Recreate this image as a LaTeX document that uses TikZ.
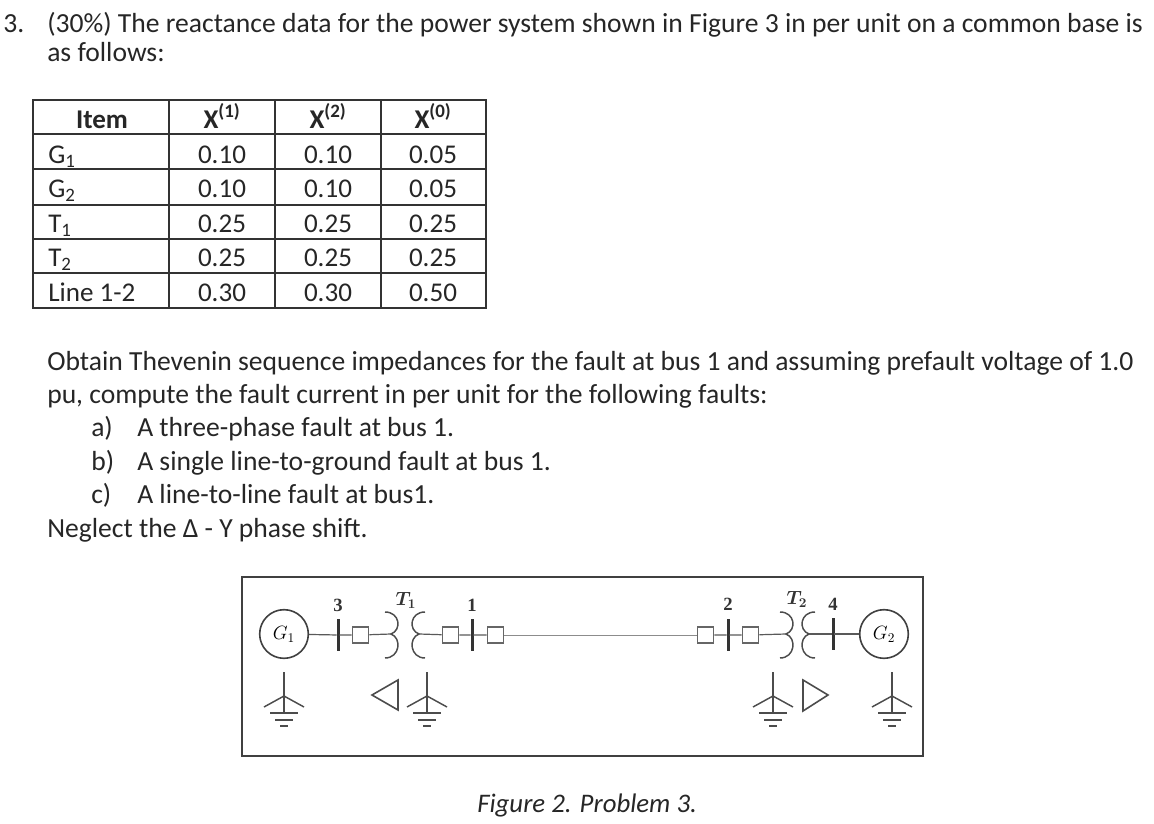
\documentclass[tikz,border=0pt]{standalone}
\usepackage{fontspec}
\setmainfont{Carlito}
\newfontfamily\figfont{Liberation Serif}
\usetikzlibrary{positioning}
\tikzset{
    txt/.style={anchor=base west,inner sep=0pt,font=\fontsize{20.7}{24}\selectfont,text=black!85},
    cell/.style={anchor=base,inner sep=0pt,font=\fontsize{20.3}{24}\selectfont,text=black!85},
    lcell/.style={cell,anchor=base west},
    busbar/.style={draw=black!80,fill=black!80,rectangle,minimum width=1.6pt,minimum height=23pt,inner sep=0pt},
    brk/.style={draw=black!60,line width=1.3pt,rectangle,minimum width=12pt,minimum height=11.5pt,inner sep=0pt},
    gen/.style={draw=black!75,line width=1.2pt,circle,minimum size=36.5pt,inner sep=0pt,font=\Large},
    wire/.style={draw=black!65,line width=.9pt},
    coil/.style={draw=black!70,line width=1.1pt},
    num/.style={inner sep=0pt,font=\figfont\bfseries\fontsize{14}{14}\selectfont,text=black!80},
    tlabel/.style={inner sep=0pt,font=\Large\boldmath,text=black!80},
    tbl/.style={draw=black!80,line width=.9pt}
}
\begin{document}
\begin{tikzpicture}[x=.75pt,y=-.75pt]
    \useasboundingbox (0,0) rectangle (1154,824);
    % Text:
    \node[txt] (qnum) at (3,33) {3.};
    \node[txt] (q1) at (47,33) {(30\%) The reactance data for the power system shown in Figure 3 in per unit on a common base is};
    \node[txt] (q2) at (47,62) {as follows:};
    \node[txt] (p1) at (47,370) {Obtain Thevenin sequence impedances for the fault at bus 1 and assuming prefault voltage of 1.0};
    \node[txt] (p2) at (47,403) {pu, compute the fault current in per unit for the following faults:};
    \node[txt] (a1) at (91,436) {a)};
    \node[txt] (a2) at (137,436) {A three-phase fault at bus 1.};
    \node[txt] (b1) at (91,470) {b)};
    \node[txt] (b2) at (137,470) {A single line-to-ground fault at bus 1.};
    \node[txt] (c1) at (91,503) {c)};
    \node[txt] (c2) at (137,503) {A line-to-line fault at bus1.};
    \node[txt] (p3) at (47,537) {Neglect the Δ - Y phase shift.};
    \node[txt,font=\fontsize{20.1}{24}\selectfont\itshape] (cap) at (477,812) {Figure 2. Problem 3.};

    % Table:
    \draw[tbl] (33,100) rectangle (486,308);
    \foreach \x in {169,275,381}
        \draw[tbl] (\x,100) -- (\x,308);
    \foreach \y in {134,169,205,239,273}
        \draw[tbl] (33,\y) -- (486,\y);
    \node[cell] (hitem) at (102,128) {\bfseries Item};
    \node[cell] (h1) at (222,128) {\bfseries X\textsuperscript{(1)}};
    \node[cell] (h2) at (328,128) {\bfseries X\textsuperscript{(2)}};
    \node[cell] (h0) at (433,128) {\bfseries X\textsuperscript{(0)}};
    \foreach \name/\lbl/\y/\a/\b/\c in {ga/G\textsubscript{1}/163/0.10/0.10/0.05,gb/G\textsubscript{2}/197/0.10/0.10/0.05,
            ta/T\textsubscript{1}/232/0.25/0.25/0.25,tb/T\textsubscript{2}/266/0.25/0.25/0.25,ln/Line 1-2/301/0.30/0.30/0.50} {
        \node[lcell] (\name) at (48,\y) {\lbl};
        \node[cell] (\name a) at (222,\y) {\a};
        \node[cell] (\name b) at (328,\y) {\b};
        \node[cell] (\name c) at (433,\y) {\c};
    }

    % Figure frame:
    \draw[draw=black!75,line width=1.3pt] (242,577) rectangle (923,756);

    % One-line diagram:
    \node[gen] (G1) at (284,634) {$G_1$};
    \node[gen] (G2) at (884,634) {$G_2$};
    \node[busbar] (bus3) at (338,635) {};
    \node[busbar] (bus1) at (472,635) {};
    \node[busbar] (bus2) at (728,635) {};
    \node[busbar] (bus4) at (833,634) {};
    \node[brk] (b3) at (360.5,635) {};
    \node[brk] (b1l) at (450.5,635) {};
    \node[brk] (b1r) at (495.5,635) {};
    \node[brk] (b2l) at (705.5,635) {};
    \node[brk] (b2r) at (750.5,635) {};
    \node[num] (n3) at (338,605) {3};
    \node[num] (n1) at (472,605) {1};
    \node[num] (n2) at (728,604) {2};
    \node[num] (n4) at (833,604) {4};
    \node[tlabel] (T1) at (406,600) {$T_1$};
    \node[tlabel] (T2) at (797,599) {$T_2$};

    % Transformer windings:
    \foreach \name/\xl/\xr in {ca/398/412,cb/793/802} {
        \coordinate (\name l) at (\xl-7,634);
        \coordinate (\name r) at (\xr+7,634);
        \draw[coil] (\xl-13,612) .. controls (\xl+2,612) and (\xl+4,630) .. (\name l)
            .. controls (\xl+4,638) and (\xl+2,658) .. (\xl-13,658);
        \draw[coil] (\xr+13,612) .. controls (\xr-2,612) and (\xr-4,630) .. (\name r)
            .. controls (\xr-4,638) and (\xr-2,658) .. (\xr+13,658);
    }

    % Connections:
    \draw[wire] (G1) -- (bus3) -- (b3) -- (cal);
    \draw[wire] (car) -- (b1l) -- (bus1) -- (b1r);
    \draw[draw=black!45,line width=.7pt] (b1r) -- (b2l);
    \draw[wire] (b2l) -- (bus2) -- (b2r) -- (cbl);
    \draw[wire] (cbr) -- (bus4) -- (G2);

    % Wye and ground symbols:
    \foreach \name/\x in {wa/284,wb/427,wc/773,wd/892} {
        \coordinate (\name top) at (\x,672);
        \coordinate (\name mid) at (\x,696);
        \coordinate (\name end) at (\x,713);
        \draw[coil] (\name top) -- (\name mid) -- (\name end);
        \draw[coil] (\x-20,707) -- (\name mid) -- (\x+20,707);
        \draw[coil] (\x-14,713) -- (\x+14,713);
        \draw[coil] (\x-9,720) -- (\x+9,720);
        \draw[coil] (\x-4,726) -- (\x+4,726);
    }

    % Delta symbols:
    \draw[draw=black!70,line width=1.2pt] (372,695) -- (398,680) -- (398,710) -- cycle;
    \draw[draw=black!70,line width=1.2pt] (828,695) -- (803,680) -- (803,711) -- cycle;
\end{tikzpicture}
\end{document}
